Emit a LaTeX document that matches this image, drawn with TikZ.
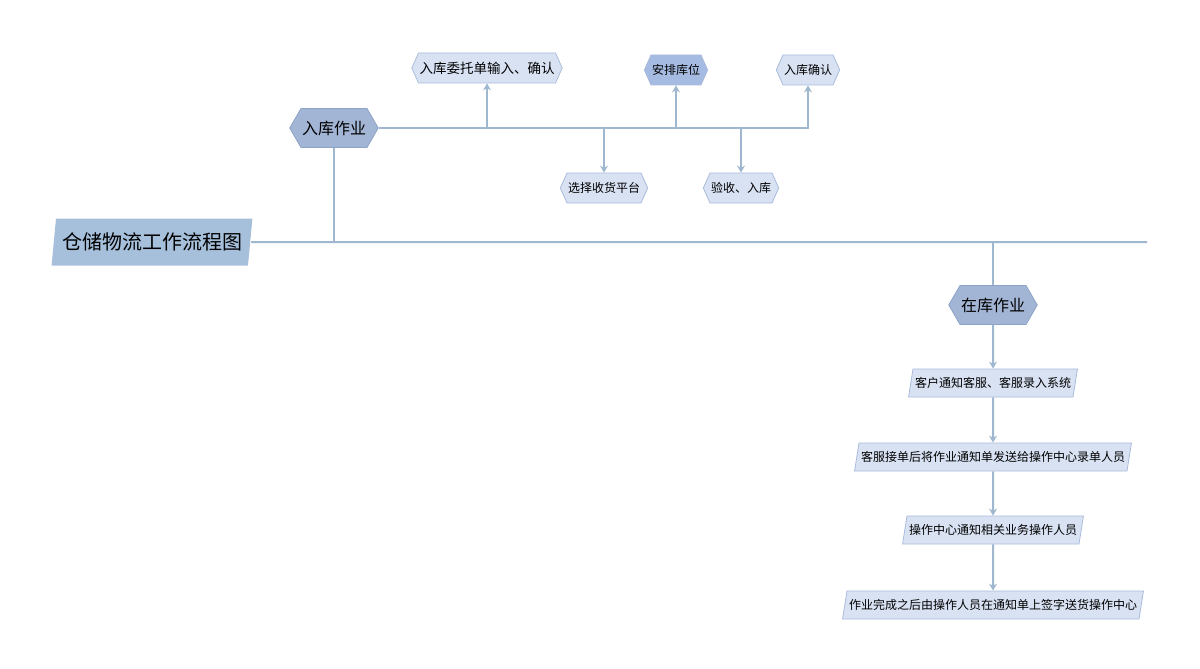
\documentclass[tikz,border=0pt]{standalone}
\usepackage{fontspec}
\setmainfont{Noto Sans CJK SC}
\usetikzlibrary{arrows.meta,shapes.symbols,shapes.geometric}
\definecolor{linecol}{RGB}{159,184,207}
\definecolor{rootcol}{RGB}{166,192,220}
\definecolor{topiccol}{RGB}{163,181,212}
\definecolor{topicdraw}{RGB}{140,163,200}
\definecolor{leafcol}{RGB}{217,226,243}
\definecolor{leafdraw}{RGB}{169,188,219}
\definecolor{darkleaf}{RGB}{165,187,226}
\begin{document}
\begin{tikzpicture}
[x=1pt, y=-1pt, line width=2pt, >={Stealth[length=7pt,width=8pt]},
root/.style={trapezium, trapezium stretches=true, trapezium left angle=80, trapezium right angle=100, fill=rootcol, inner xsep=6pt, minimum height=47pt, font=\fontsize{20}{24}\selectfont},
topic/.style={signal, signal to=east and west, signal pointer angle=120, draw=topicdraw, line width=0.8pt, fill=topiccol, inner xsep=1pt, minimum height=39pt, font=\fontsize{16}{19}\selectfont},
leaf/.style={signal, signal to=east and west, signal pointer angle=132, draw=leafdraw, line width=0.8pt, fill=leafcol, inner xsep=1pt, minimum height=30pt, font=\fontsize{12}{14}\selectfont},
stepbox/.style={trapezium, trapezium stretches=true, trapezium left angle=76, trapezium right angle=104, draw=leafdraw, line width=0.8pt, fill=leafcol, inner xsep=2pt, minimum height=28pt, font=\fontsize{12}{14}\selectfont},
link/.style={draw=linecol, line width=2pt}]

\useasboundingbox (0,0) rectangle (1200,669);

% main topic
\node[root] (main) at (152,242) {仓储物流工作流程图};
\coordinate (mainend) at (1147,242);
\draw[link] (main) -- (mainend);

% inbound
\node[topic] (ruku) at (334,128) {入库作业};
\draw[link] (main) -| (ruku);
\node[leaf, font=\fontsize{13.5}{16}\selectfont] (weituo) at (487,68) {入库委托单输入、确认};
\node[leaf] (shouhuo) at (604,188) {选择收货平台};
\node[leaf, fill=darkleaf] (kuwei) at (676,70) {安排库位};
\node[leaf] (yanshou) at (741,188) {验收、入库};
\node[leaf] (queren) at (808,70) {入库确认};
\draw[link, ->] (ruku) -| (weituo);
\draw[link, ->] (ruku) -| (shouhuo);
\draw[link, ->] (ruku) -| (kuwei);
\draw[link, ->] (ruku) -| (yanshou);
\draw[link, ->] (ruku) -| (queren);

% in storage
\node[topic] (zaiku) at (993,305) {在库作业};
\draw[link] (main) -| (zaiku);
\node[stepbox] (tongzhi) at (993,383) {客户通知客服、客服录入系统}
  edge [link, <-] (zaiku);
\node[stepbox] (jiedan) at (993,457) {客服接单后将作业通知单发送给操作中心录单人员}
  edge [link, <-] (tongzhi);
\node[stepbox] (caozuo) at (993,530) {操作中心通知相关业务操作人员}
  edge [link, <-] (jiedan);
\node[stepbox] (wancheng) at (993,605) {作业完成之后由操作人员在通知单上签字送货操作中心}
  edge [link, <-] (caozuo);
\end{tikzpicture}
\end{document}
